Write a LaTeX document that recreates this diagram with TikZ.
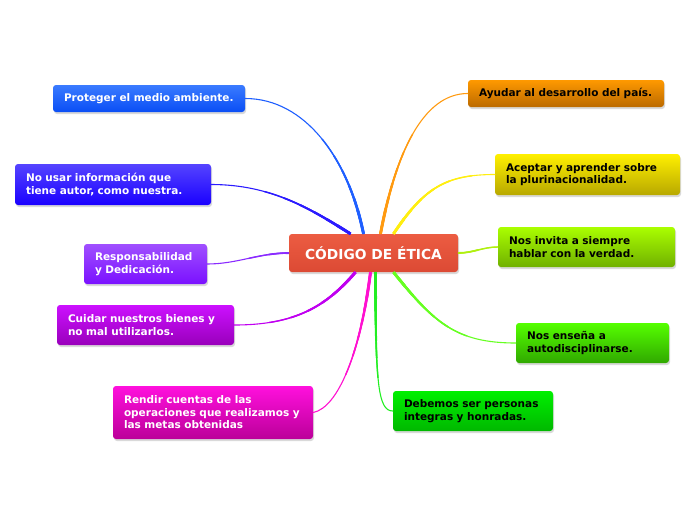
\documentclass[tikz,border=0pt]{standalone}
\usepackage{fontspec}
\setmainfont{DejaVu Sans}
\usetikzlibrary{shadows,calc}
\definecolor{cB1}{HTML}{1F5FFF}
\definecolor{cB2}{HTML}{2B1BFF}
\definecolor{cP3}{HTML}{8A2BFF}
\definecolor{cP4}{HTML}{C000F0}
\definecolor{cM5}{HTML}{FF10D0}
\definecolor{cO6}{HTML}{FF9A10}
\definecolor{cY7}{HTML}{FFEE10}
\definecolor{cG8}{HTML}{B0F010}
\definecolor{cG9}{HTML}{66FF22}
\definecolor{cG10}{HTML}{22EE22}
\tikzset{
  leaf/.style={rounded corners=3pt, inner xsep=11pt, inner ysep=2pt, align=left,
    font=\bfseries\fontsize{10.5}{12.5}\selectfont,
    drop shadow={shadow xshift=1pt, shadow yshift=-2pt, opacity=0.3}},
  wleaf/.style={leaf, text=white},
  bleaf/.style={leaf, text=black},
  conn/.style={line width=1.1pt, line cap=round},
}
\begin{document}
\begin{tikzpicture}[x=1pt,y=-1pt]
\useasboundingbox (0,0) rectangle (696,520);
% center
\node[rounded corners=3pt, top color={rgb,255:red,236;green,92;blue,66}, bottom color={rgb,255:red,220;green,74;blue,52},
  minimum width=169pt, minimum height=38pt, text=white, font=\bfseries\fontsize{13.8}{16}\selectfont,
  drop shadow={shadow xshift=1pt, shadow yshift=-2pt, opacity=0.3}] (c) at (373.5,253) {CÓDIGO DE ÉTICA};
% leaves
\node[wleaf, top color={rgb,255:red,58;green,123;blue,255}, bottom color={rgb,255:red,10;green,78;blue,245},
  text width=170pt, minimum height=27pt] (n1) at (149,98.5) {Proteger el medio ambiente.};
\node[wleaf, top color={rgb,255:red,85;green,68;blue,255}, bottom color={rgb,255:red,26;green,0;blue,255},
  text width=174pt, minimum height=41pt] (n2) at (113,184.5) {No usar información que\\tiene autor, como nuestra.};
\node[wleaf, top color={rgb,255:red,160;green,80;blue,255}, bottom color={rgb,255:red,122;green,16;blue,255},
  text width=101pt, minimum height=40pt] (n3) at (145.5,264) {Responsabilidad\\y Dedicación.};
\node[wleaf, top color={rgb,255:red,204;green,16;blue,255}, bottom color={rgb,255:red,153;green,0;blue,187},
  text width=155pt, minimum height=40pt] (n4) at (145.5,325) {Cuidar nuestros bienes y\\no mal utilizarlos.};
\node[wleaf, top color={rgb,255:red,255;green,16;blue,221}, bottom color={rgb,255:red,187;green,0;blue,153},
  text width=178pt, minimum height=53pt] (n5) at (213,412.5) {Rendir cuentas de las\\operaciones que realizamos y\\las metas obtenidas};
\node[bleaf, top color={rgb,255:red,255;green,153;blue,0}, bottom color={rgb,255:red,187;green,106;blue,0},
  text width=174pt, minimum height=27pt] (n6) at (566,93.5) {Ayudar al desarrollo del país.};
\node[bleaf, top color={rgb,255:red,255;green,240;blue,0}, bottom color={rgb,255:red,184;green,168;blue,0},
  text width=163pt, minimum height=41pt] (n7) at (587.5,174.5) {Aceptar y aprender sobre\\la plurinacionalidad.};
\node[bleaf, top color={rgb,255:red,170;green,255;blue,0}, bottom color={rgb,255:red,112;green,176;blue,0},
  text width=155pt, minimum height=40pt] (n8) at (586.5,247) {Nos invita a siempre\\hablar con la verdad.};
\node[bleaf, top color={rgb,255:red,85;green,255;blue,0}, bottom color={rgb,255:red,48;green,168;blue,0},
  text width=131pt, minimum height=40pt] (n9) at (592.5,343) {Nos enseña a\\autodisciplinarse.};
\node[bleaf, top color={rgb,255:red,0;green,240;blue,0}, bottom color={rgb,255:red,0;green,184;blue,0},
  text width=138pt, minimum height=40pt] (n10) at (473,411) {Debemos ser personas\\integras y honradas.};
% connector anchors
\coordinate (s1) at ($(c.north)+(-10,0)$);
\coordinate (s2) at ($(c.north)+(-23,0)$);
\coordinate (s4) at ($(c.south)+(-18,0)$);
\coordinate (s5) at ($(c.south)+(-3,0)$);
\coordinate (s6) at ($(c.north)+(7,0)$);
\coordinate (s7) at ($(c.north)+(20,0)$);
\coordinate (s9) at ($(c.south)+(20,0)$);
\coordinate (s10) at ($(c.south)+(2,0)$);
\newcommand{\allconn}[1]{%
\draw[#1, cB1] (s1) .. controls +(-15,-75) and +(60,0) .. (n1.east);
\draw[#1, cB2] (s2) .. controls +(-40,-25) and +(60,0) .. (n2.east);
\draw[#1, cP3] (c.west) .. controls +(-30,0) and +(30,0) .. (n3.east);
\draw[#1, cP4] (s4) .. controls +(-30,35) and +(60,0) .. (n4.east);
\draw[#1, cM5] (s5) .. controls +(-10,80) and +(25,-5) .. (n5.east);
\draw[#1, cO6] (s6) .. controls +(15,-80) and +(-45,0) .. (n6.west);
\draw[#1, cY7] (s7) .. controls +(30,-45) and +(-50,0) .. (n7.west);
\draw[#1, cG8] (c.east) .. controls +(15,0) and +(-15,0) .. (n8.west);
\draw[#1, cG9] (s9) .. controls +(40,50) and +(-60,0) .. (n9.west);
\draw[#1, cG10] (s10) .. controls +(0,110) and +(-15,0) .. (n10.west);
}
\allconn{conn}
\foreach \r/\w in {125/1.4, 105/1.7, 88/2.0, 72/2.3, 58/2.6, 46/2.9}{
  \begin{scope}
  \clip (373.5,253) circle (\r pt);
  \allconn{line width=\w pt}
  \end{scope}
}
\end{tikzpicture}
\end{document}
